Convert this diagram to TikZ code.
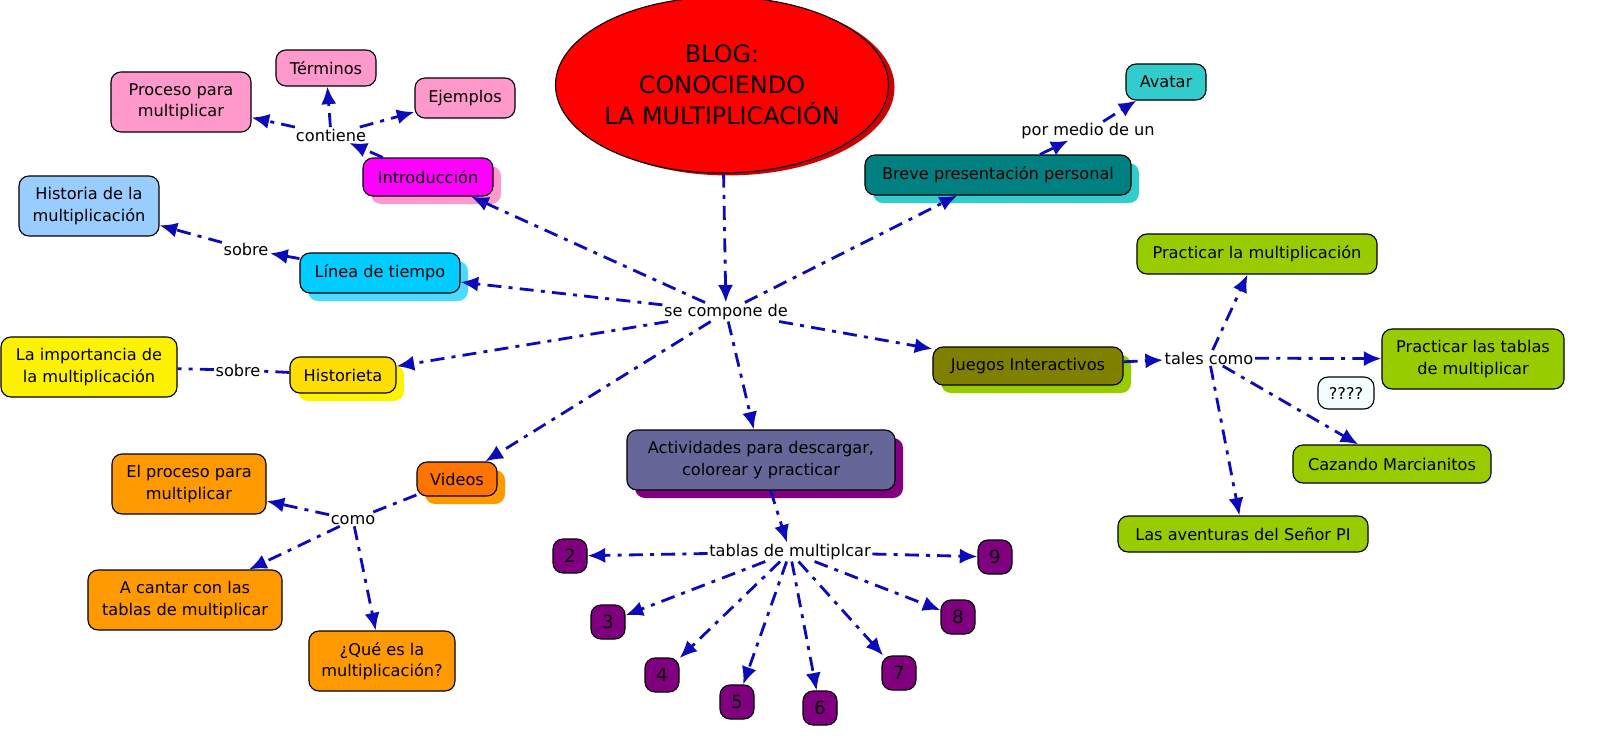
\documentclass[tikz,border=0pt]{standalone}
\usepackage{fontspec}
\setmainfont{DejaVu Sans}
\usetikzlibrary{shapes,shadows}
\usetikzlibrary{arrows.meta,arrows}
\definecolor{flecha}{HTML}{0B0BBB}
\definecolor{rosa}{HTML}{FF99CC}
\definecolor{fucsia}{HTML}{FF00FF}
\definecolor{celeste}{HTML}{99CCFF}
\definecolor{cian}{HTML}{00CCFF}
\definecolor{naranja}{HTML}{FF9900}
\definecolor{lila}{HTML}{666699}
\definecolor{morado}{HTML}{800080}
\definecolor{turquesa}{HTML}{33CCCC}
\definecolor{verde}{HTML}{99CC00}
\definecolor{oliva}{HTML}{808000}
\tikzset{
  caja/.style={draw=black, thick, rounded corners=2.5mm, align=center, inner sep=2pt,
    font=\fontsize{11.5}{15}\selectfont},
  sombra/.style={drop shadow={shadow xshift=2mm, shadow yshift=-2mm, fill=#1, opacity=1}},
  enlace/.style={fill=white, inner sep=1pt, font=\fontsize{11.5}{14}\selectfont},
  num/.style={caja, fill=morado, minimum width=0.85cm, minimum height=0.85cm, font=\fontsize{13}{15}\selectfont},
  flecha/.style={draw=flecha, line width=2pt, dash pattern=on 3.5mm off 1.8mm on 1mm off 1.8mm,
    -{Latex[length=4.4mm,width=3.8mm]}},
  linea/.style={flecha, -}
}
\begin{document}
\begin{tikzpicture}[x=0.025cm, y=-0.025cm]
	\useasboundingbox (0,0) rectangle (1600,745);
	% Titulo
	\node[ellipse, draw=black, thick, fill=red, inner sep=0pt, minimum width=8.15cm, minimum height=4.4cm, align=center,
	  drop shadow={shadow xshift=1.5mm, shadow yshift=-0.6mm, fill=red!80!black, opacity=1},
	  font=\fontsize{17}{22}\selectfont] (blog) at (722,85) {BLOG:\\CONOCIENDO\\LA MULTIPLICACI\'ON};
	\node[enlace] (compone) at (726,312) {se compone de};
	% Introduccion
	\node[caja, fill=fucsia, sombra=rosa, minimum width=3.25cm, minimum height=0.95cm] (intro) at (428,177) {Introducci\'on};
	\node[enlace] (contiene) at (331,135) {contiene};
	\node[caja, fill=rosa, minimum width=3.5cm, minimum height=1.5cm] (proceso) at (181,102) {Proceso para\\multiplicar};
	\node[caja, fill=rosa, minimum width=2.5cm, minimum height=0.9cm] (terminos) at (326,68) {T\'erminos};
	\node[caja, fill=rosa, minimum width=2.5cm, minimum height=1cm] (ejemplos) at (465,98) {Ejemplos};
	% Linea de tiempo
	\node[caja, fill=cian, sombra=cian!70!white, minimum width=4cm, minimum height=1cm] (linea) at (380,273) {L\'inea de tiempo};
	\node[enlace] (sobreA) at (246,249) {sobre};
	\node[caja, fill=celeste, minimum width=3.5cm, minimum height=1.5cm] (historia) at (89,206) {Historia de la\\multiplicaci\'on};
	% Historieta
	\node[caja, fill=yellow!80!orange, sombra=yellow, minimum width=2.65cm, minimum height=0.9cm] (historieta) at (343,375) {Historieta};
	\node[enlace] (sobreB) at (238,370) {sobre};
	\node[caja, fill=yellow, minimum width=4.4cm, minimum height=1.5cm] (importancia) at (89,367) {La importancia de\\la multiplicaci\'on};
	% Videos
	\node[caja, fill=orange!90!red, sombra=naranja, minimum width=2cm, minimum height=0.85cm] (videos) at (457,479) {Videos};
	\node[enlace] (como) at (353,520) {como};
	\node[caja, fill=naranja, minimum width=3.85cm, minimum height=1.5cm] (elproceso) at (189,484) {El proceso para\\multiplicar};
	\node[caja, fill=naranja, minimum width=4.85cm, minimum height=1.5cm] (cantar) at (185,600) {A cantar con las\\tablas de multiplicar};
	\node[caja, fill=naranja, minimum width=3.65cm, minimum height=1.5cm] (quees) at (382,661) {¿Qu\'e es la\\multiplicaci\'on?};
	% Actividades
	\node[caja, fill=lila, sombra=morado, minimum width=6.7cm, minimum height=1.5cm] (activ) at (761,460) {Actividades para descargar,\\colorear y practicar};
	\node[enlace] (tablas) at (790,552) {tablas de multiplcar};
	\node[num] (n2) at (570,556) {2};
	\node[num] (n3) at (608,622) {3};
	\node[num] (n4) at (662,675) {4};
	\node[num] (n5) at (737,702) {5};
	\node[num] (n6) at (820,708) {6};
	\node[num] (n7) at (899,673) {7};
	\node[num] (n8) at (958,617) {8};
	\node[num] (n9) at (995,557) {9};
	% Presentacion
	\node[caja, fill=teal, sombra=turquesa, minimum width=6.65cm, minimum height=1cm] (breve) at (998,175) {Breve presentaci\'on personal};
	\node[enlace] (medio) at (1088,131) {por medio de un};
	\node[caja, fill=turquesa, minimum width=2cm, minimum height=0.9cm] (avatar) at (1166,82) {Avatar};
	% Juegos
	\node[caja, fill=oliva, sombra=verde, minimum width=4.75cm, minimum height=0.95cm] (juegos) at (1028,366) {Juegos Interactivos};
	\node[enlace] (tales) at (1209,358) {tales como};
	\node[caja, fill=verde, minimum width=6cm, minimum height=1cm] (practicar) at (1257,254) {Practicar la multiplicaci\'on};
	\node[caja, fill=verde, minimum width=4.55cm, minimum height=1.5cm] (ptablas) at (1473,359) {Practicar las tablas\\de multiplicar};
	\node[caja, fill=blue!5!cyan!4!white, minimum width=1.4cm, minimum height=0.8cm] (dudas) at (1346,393) {????};
	\node[caja, fill=verde, minimum width=4.95cm, minimum height=0.95cm] (cazando) at (1392,464) {Cazando Marcianitos};
	\node[caja, fill=verde, minimum width=6.25cm, minimum height=0.9cm] (aventuras) at (1243,534) {Las aventuras del Se\~nor PI};
	% conectores
	\draw[flecha] (blog) -- (compone);
	\foreach \x in {intro, linea, historieta, videos, activ, breve, juegos}
		\draw[flecha] (compone) -- (\x);
	\draw[flecha] (intro) -- (contiene);
	\foreach \x in {proceso, terminos, ejemplos}
		\draw[flecha] (contiene) -- (\x);
	\draw[flecha] (linea) -- (sobreA);
	\draw[flecha] (sobreA) -- (historia);
	\draw[linea] (historieta) -- (sobreB);
	\draw[linea] (sobreB) -- (importancia);
	\draw[linea] (videos) -- (como);
	\foreach \x in {elproceso, cantar, quees}
		\draw[flecha] (como) -- (\x);
	\draw[flecha] (activ) -- (tablas);
	\foreach \x in {2,...,9}
		\draw[flecha] (tablas) -- (n\x);
	\draw[flecha] (breve) -- (medio);
	\draw[flecha] (medio) -- (avatar);
	\draw[flecha] (juegos) -- (tales);
	\foreach \x in {practicar, ptablas, cazando, aventuras}
		\draw[flecha] (tales) -- (\x);
\end{tikzpicture}
\end{document}
